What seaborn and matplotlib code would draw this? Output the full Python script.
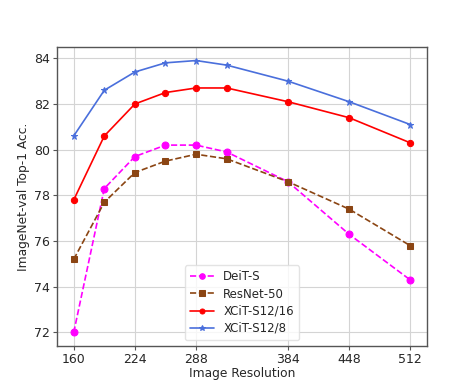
import matplotlib
matplotlib.use("Agg")
import matplotlib.pyplot as plt
import seaborn as sns
import pandas as pd

resolutions = [160, 192, 224, 256, 288, 320, 384, 448, 512]
deit_s = [72.0, 78.3, 79.7, 80.2, 80.2, 79.9, 78.6, 76.3, 74.3]
resnet50 = [75.2, 77.7, 79.0, 79.5, 79.8, 79.6, 78.6, 77.4, 75.8]
xcit_s12_16 = [77.8, 80.6, 82.0, 82.5, 82.7, 82.7, 82.1, 81.4, 80.3]
xcit_s12_8 = [80.6, 82.6, 83.4, 83.8, 83.9, 83.7, 83.0, 82.1, 81.1]
x_ticks = [160, 224, 288, 384, 448, 512]
y_ticks = [72, 74, 76, 78, 80, 82, 84]

series = {
    "DeiT-S": deit_s,
    "ResNet-50": resnet50,
    "XCiT-S12/16": xcit_s12_16,
    "XCiT-S12/8": xcit_s12_8,
}
df = pd.concat(
    [pd.DataFrame({"Image Resolution": resolutions, "acc": v, "model": k}) for k, v in series.items()],
    ignore_index=True,
)

sns.set_style("whitegrid", {
    "axes.edgecolor": "#555555",
    "grid.color": "#d4d4d4",
    "xtick.bottom": True,
    "ytick.left": True,
})
plt.rcParams["font.family"] = ["DejaVu Sans"]

fig = plt.figure(figsize=(4.74, 3.88), dpi=100)
ax = fig.add_axes([0.120, 0.108, 0.781, 0.771])

styles = {
    "DeiT-S": dict(color="#ff00ff", linestyle="--", marker="o", markersize=5),
    "ResNet-50": dict(color="#8b4513", linestyle="--", marker="s", markersize=5),
    "XCiT-S12/16": dict(color="#ff0000", linestyle="-", marker="o", markersize=4.5),
    "XCiT-S12/8": dict(color="#4a6fdc", linestyle="-", marker="*", markersize=5),
}
for name in series:
    st = styles[name]
    sns.lineplot(data=df[df["model"] == name], x="Image Resolution", y="acc", ax=ax,
                 label=name, color=st["color"], linestyle=st["linestyle"],
                 marker=st["marker"], markersize=st["markersize"],
                 markeredgecolor=st["color"], linewidth=1.2)

ax.set_xticks(x_ticks)
ax.set_yticks(y_ticks)
ax.tick_params(axis="both", labelsize=9, length=3, width=0.8, color="#555555", pad=2)
ax.set_xlabel("Image Resolution", fontsize=8.8, labelpad=1)
ax.set_ylabel("ImageNet-val Top-1 Acc.", fontsize=8.8, labelpad=3)
for s in ax.spines.values():
    s.set_linewidth(1.0)
leg = ax.legend(loc="lower center", fontsize=8.5, frameon=True, handlelength=2.0,
                markerscale=0.8, borderpad=0.45, labelspacing=0.35)
leg.get_frame().set_edgecolor("#dddddd")

fig.savefig("out.png", dpi=100)
